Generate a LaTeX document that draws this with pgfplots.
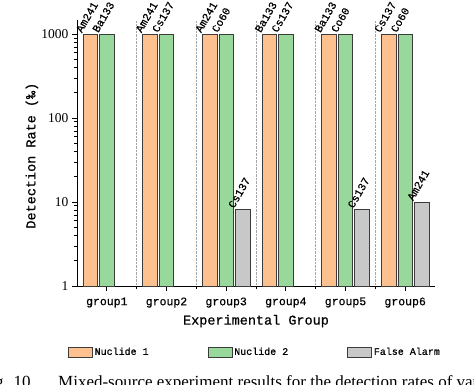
\documentclass[border=0pt]{standalone}
\usepackage{pgfplots}
\pgfplotsset{compat=1.18}
\usepackage{fontspec}
\setmainfont{Liberation Serif}
\newfontfamily\monof{Liberation Mono}[UprightFeatures={FakeBold=0.6}]
\definecolor{nucA}{HTML}{FDC08F}
\definecolor{nucB}{HTML}{98D89A}
\definecolor{falseC}{HTML}{C8C8C8}
\definecolor{edge}{HTML}{3C3C3C}
\begin{document}
\begin{tikzpicture}[x=1pt,y=1pt]
\path[use as bounding box] (0,0) rectangle (474,384);
\begin{scope}
\clip (0,0) rectangle (474,384);
\node[anchor=base east, font=\fontsize{17}{17}\selectfont, inner sep=0pt] at (35,-3) {Fig. 10.};
\node[anchor=base west, font=\fontsize{17}{17}\selectfont, inner sep=0pt] at (58,-3) {Mixed-source experiment results for the detection rates of various nuclides.};
\end{scope}
\begin{axis}[
  at={(77pt,98pt)}, anchor=south west,
  scale only axis, width=358pt, height=266pt,
  xmin=0.5, xmax=6.5, ymin=1, ymax=1468, ymode=log,
  axis x line*=bottom, axis y line*=left,
  axis line style={line width=0.8pt, black},
  xtick={1,2,3,4,5,6},
  xticklabels={group1,group2,group3,group4,group5,group6},
  ytick={1,10,100,1000}, yticklabels={1,10,100,1000},
  tick align=outside, major tick length=5pt, minor tick length=3pt,
  every tick/.style={black, line width=0.7pt},
  extra x ticks={1.5,2.5,3.5,4.5,5.5}, extra x tick labels={},
  extra x tick style={grid=major, major grid style={densely dotted, gray!70, line width=0.6pt}, major tick length=3pt},
  xticklabel style={font=\monof\fontsize{11.5}{11.5}\selectfont, yshift=-3pt},
  yticklabel style={font=\fontsize{13.5}{13.5}\selectfont},
  xlabel={Experimental Group}, ylabel={Detection Rate (‰)},
  xlabel style={font=\monof\fontsize{13.5}{14}\selectfont, at={(axis description cs:0.5,-0.132)}, anchor=center},
  ylabel style={font=\monof\fontsize{13.5}{14}\selectfont, at={(axis description cs:-0.126,0.49)}, anchor=center},
  ybar, bar width=14.5pt,
  point meta=explicit symbolic,
  nodes near coords,
  nodes near coords style={font=\monof\fontsize{11}{11}\selectfont, xshift=-8pt, yshift=-1pt, rotate=60, anchor=south west, inner sep=1pt},
  legend columns=3,
  legend image code/.code={\draw[#1] (0pt,-5pt) rectangle (24pt,5pt);},
  legend style={draw=none, at={(axis description cs:-0.034,-0.248)}, anchor=west,
    font=\monof\fontsize{10}{10}\selectfont,
    /tikz/every even column/.append style={column sep=57pt}},
]
\addplot[bar shift=-16.5pt, fill=nucA, draw=edge, line width=0.6pt] coordinates {
 (1,1000) [Am241] (2,1000) [Am241] (3,1000) [Am241] (4,1000) [Ba133] (5,1000) [Ba133] (6,1000) [Cs137]};
\addplot[bar shift=0pt, fill=nucB, draw=edge, line width=0.6pt] coordinates {
 (1,1000) [Ba133] (2,1000) [Cs137] (3,1000) [Co60] (4,1000) [Cs137] (5,1000) [Co60] (6,1000) [Co60]};
\addplot[bar shift=16.5pt, fill=falseC, draw=edge, line width=0.6pt] coordinates {
 (3,8.1) [Cs137] (5,8.1) [Cs137] (6,10) [Am241]};
\legend{Nuclide 1, Nuclide 2, False Alarm}
\end{axis}
\end{tikzpicture}
\end{document}
